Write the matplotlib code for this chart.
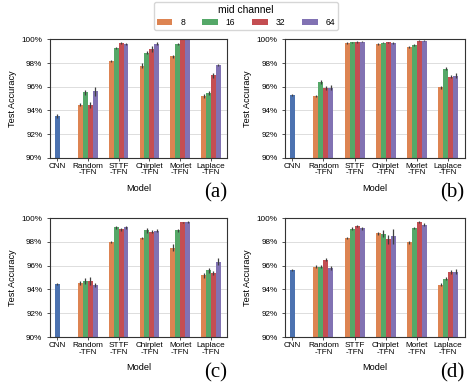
"""Test accuracy por modelo y mid channel, cuatro paneles."""
import matplotlib
matplotlib.use("Agg")
import matplotlib.pyplot as plt
from matplotlib.patches import Patch
from matplotlib.ticker import FuncFormatter
import numpy as np

models = ["CNN", "Random\n-TFN", "STTF\n-TFN", "Chirplet\n-TFN", "Morlet\n-TFN", "Laplace\n-TFN"]
channels = ["8", "16", "32", "64"]
panel_tags = ["(a)", "(b)", "(c)", "(d)"]

# CNN (una barra) y TFN (4 mid channels por modelo), en %
cnn_acc = [93.5, 95.3, 94.45, 95.6]
cnn_err = [0.15, 0.1, 0.08, 0.08]

acc_a = [[94.47, 95.53, 94.47, 95.6],
         [98.17, 99.27, 99.72, 99.58],
         [97.77, 98.87, 99.18, 99.63],
         [98.56, 99.6, 100.0, 100.0],
         [95.2, 95.46, 96.96, 97.83]]
err_a = [[0.12, 0.2, 0.25, 0.4],
         [0.12, 0.1, 0.08, 0.1],
         [0.2, 0.15, 0.25, 0.15],
         [0.12, 0.12, 0.0, 0.0],
         [0.15, 0.15, 0.2, 0.1]]

acc_b = [[95.22, 96.38, 95.9, 95.9],
         [99.72, 99.75, 99.78, 99.8],
         [99.58, 99.72, 99.75, 99.72],
         [99.33, 99.5, 99.89, 99.89],
         [95.96, 97.53, 96.85, 96.94]]
err_b = [[0.1, 0.15, 0.15, 0.2],
         [0.08, 0.05, 0.05, 0.05],
         [0.1, 0.05, 0.05, 0.08],
         [0.08, 0.08, 0.05, 0.05],
         [0.12, 0.12, 0.15, 0.2]]

acc_c = [[94.54, 94.68, 94.71, 94.37],
         [97.96, 99.22, 99.05, 99.22],
         [98.35, 98.96, 98.85, 98.94],
         [97.5, 98.96, 99.64, 99.66],
         [95.2, 95.6, 95.4, 96.33]]
err_c = [[0.15, 0.25, 0.35, 0.2],
         [0.08, 0.15, 0.12, 0.15],
         [0.08, 0.2, 0.12, 0.15],
         [0.3, 0.1, 0.05, 0.05],
         [0.2, 0.2, 0.15, 0.3]]

acc_d = [[95.9, 95.9, 96.5, 95.8],
         [98.32, 99.1, 99.36, 99.15],
         [98.7, 98.68, 98.2, 98.45],
         [97.95, 99.15, 99.7, 99.45],
         [94.4, 94.9, 95.45, 95.5]]
err_d = [[0.12, 0.12, 0.15, 0.15],
         [0.05, 0.12, 0.08, 0.12],
         [0.12, 0.3, 0.4, 0.6],
         [0.12, 0.1, 0.08, 0.1],
         [0.15, 0.12, 0.15, 0.2]]

panels_acc = [acc_a, acc_b, acc_c, acc_d]
panels_err = [err_a, err_b, err_c, err_d]

cnn_color = "#4C72B0"
ch_colors = ["#DD8452", "#55A868", "#C44E52", "#8172B3"]
err_color = "#404040"
bar_w = 0.16
offsets = [-0.24, -0.08, 0.08, 0.24]

plt.rcParams["font.family"] = ["Liberation Sans", "DejaVu Sans"]

fig = plt.figure(figsize=(4.74, 3.88), dpi=100)
# [left, bottom, width, height] en fraccion de figura
boxes = [
    [0.1055, 0.5936, 0.374, 0.305],
    [0.6013, 0.5936, 0.3791, 0.305],
    [0.1055, 0.1314, 0.374, 0.3067],
    [0.6013, 0.1314, 0.3791, 0.3067],
]

for box, acc, err, cacc, cerr, tag in zip(boxes, panels_acc, panels_err, cnn_acc, cnn_err, panel_tags):
    ax = fig.add_axes(box)
    ax.bar(0, cacc / 100, width=bar_w, color=cnn_color, zorder=2)
    ax.errorbar(0, cacc / 100, yerr=cerr / 100, fmt="none", ecolor=err_color, elinewidth=0.9, zorder=3)
    acc = np.array(acc) / 100
    err = np.array(err) / 100
    for j in range(len(channels)):
        xs = np.arange(1, len(models)) + offsets[j]
        ax.bar(xs, acc[:, j], width=bar_w, color=ch_colors[j], zorder=2)
        ax.errorbar(xs, acc[:, j], yerr=err[:, j], fmt="none", ecolor=err_color, elinewidth=0.9, zorder=3)

    ax.set_ylim(0.90, 1.00)
    ax.set_xlim(-0.23, 5.53)
    ax.set_yticks(np.arange(0.90, 1.001, 0.02))
    ax.yaxis.set_major_formatter(FuncFormatter(lambda v, _: f"{v * 100:.0f}%"))
    ax.set_xticks(range(len(models)))
    ax.set_xticklabels(models, linespacing=0.95)
    ax.tick_params(labelsize=5.9, length=2, width=0.6, color="#333333")
    ax.tick_params(axis="x", pad=1.5)
    ax.tick_params(axis="y", pad=3.5)
    ax.grid(axis="y", color="#dddddd", linewidth=0.7, zorder=0)
    ax.set_axisbelow(True)
    for s in ax.spines.values():
        s.set_color("#333333")
        s.set_linewidth(0.8)
    ax.set_ylabel("Test Accuracy", fontsize=6.6, labelpad=3)
    ax.set_xlabel("Model", fontsize=6.6, labelpad=5.5)
    ax.text(1.0, -0.22, tag, transform=ax.transAxes, ha="right", va="top",
            fontsize=15, family="Liberation Serif")

handles = [Patch(facecolor=c) for c in ch_colors]
leg = fig.legend(handles, channels, title="mid channel", loc="upper center",
                 bbox_to_anchor=(0.519, 1.005), ncol=4, fontsize=6.2, title_fontsize=7.4,
                 frameon=True, handlelength=1.8, handleheight=0.55, handletextpad=0.9,
                 columnspacing=2.0, borderpad=0.35, labelspacing=0.3, edgecolor="#cccccc")

plt.savefig("out.png", dpi=100)
plt.close(fig)
